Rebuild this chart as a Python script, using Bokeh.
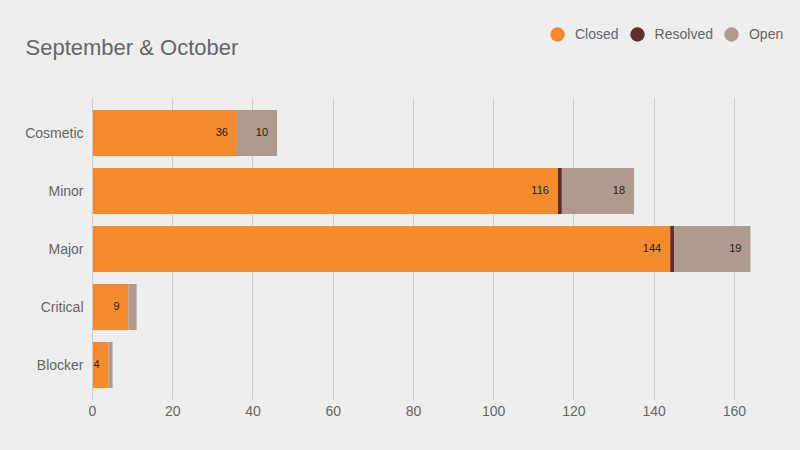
import numpy as np
import pandas as pd
from bokeh.plotting import figure
from bokeh.layouts import column
from bokeh.models import ColumnDataSource, FactorRange, Range1d, LabelSet, Label, Legend, LegendItem
from bokeh.core.properties import value
from bokeh.embed import file_html
from bokeh.resources import INLINE

# data
categories = ["Cosmetic", "Minor", "Major", "Critical", "Blocker"]
closed = [36, 116, 144, 9, 4]
resolved = [0, 1, 1, 0, 0]
opened = [10, 18, 19, 2, 1]
x_ticks = [0, 20, 40, 60, 80, 100, 120, 140, 160]

series = ["Closed", "Resolved", "Open"]
colors = ["#f48c2e", "#5e2e2f", "#b09a8e"]
text_grey = "#666666"
bg = "#eeeeee"
font = "Liberation Sans"

df = pd.DataFrame({"category": categories, "Closed": closed,
                   "Resolved": resolved, "Open": opened})
source = ColumnDataSource(df)

# header strip: title and legend
head_h = 98
head = figure(width=800, height=head_h, x_range=Range1d(0, 800), y_range=Range1d(head_h, 0),
              output_backend="svg", toolbar_location=None,
              x_axis_location=None, y_axis_location=None, min_border=0)
head.frame_align = False
head.background_fill_color = None
head.border_fill_color = bg
head.outline_line_color = None
head.grid.visible = False

head.add_layout(Label(x=25, y=47, text="September & October", text_baseline="alphabetic",
                      text_font=font, text_font_size="22px", text_color=text_grey))

proxies = []
for name, c in zip(series, colors):
    r = head.scatter(x=[np.nan], y=[np.nan], marker="circle", fill_color=c, line_color=None)
    proxies.append(LegendItem(label=name, renderers=[r]))
legend = Legend(items=proxies, orientation="horizontal", location=(539, head_h - 54),
                glyph_width=36, glyph_height=40, label_standoff=0, spacing=0,
                padding=0, margin=0, border_line_color=None, background_fill_alpha=0,
                label_text_font=font, label_text_font_size="14px", label_text_color=text_grey)
head.add_layout(legend)

# main chart
p = figure(width=800, height=450 - head_h,
           y_range=FactorRange(factors=categories[::-1], range_padding=0.095,
                               range_padding_units="absolute"),
           x_range=Range1d(0, 169),
           output_backend="svg", toolbar_location=None,
           min_border_left=92, min_border_right=30,
           min_border_top=0, min_border_bottom=51)
p.frame_align = False

p.background_fill_color = None
p.border_fill_color = bg
p.outline_line_color = None

p.hbar_stack(series, y="category", height=0.79, color=colors,
             line_color=None, source=source)

# value labels at the inside end of each segment
df["closed_end"] = df["Closed"]
df["open_end"] = df["Closed"] + df["Resolved"] + df["Open"]
lab_closed = df[df["Closed"] >= 3]
lab_open = df[df["Open"] >= 3]
for sub, col, end in [(lab_closed, "Closed", "closed_end"), (lab_open, "Open", "open_end")]:
    lsrc = ColumnDataSource(dict(x=sub[end].tolist(), y=sub["category"].tolist(),
                                 t=[str(v) for v in sub[col]]))
    p.add_layout(LabelSet(x="x", y="y", text="t", source=lsrc, x_offset=-9, y_offset=1,
                          text_align="right", text_baseline="middle",
                          text_font=value(font), text_font_size=value("11px"),
                          text_color="#222222"))

# axes and grid
p.xaxis.ticker = x_ticks
p.xaxis.axis_line_color = None
p.xaxis.major_tick_line_color = None
p.xaxis.major_tick_out = 0
p.xaxis.minor_tick_line_color = None
p.xaxis.major_label_text_font = font
p.xaxis.major_label_text_font_size = "14px"
p.xaxis.major_label_text_color = text_grey
p.xaxis.major_label_standoff = 6

p.yaxis.axis_line_color = "#cccccc"
p.yaxis.major_tick_line_color = None
p.yaxis.major_tick_out = 0
p.yaxis.minor_tick_line_color = None
p.yaxis.major_label_text_font = font
p.yaxis.major_label_text_font_size = "14px"
p.yaxis.major_label_text_color = text_grey
p.yaxis.major_label_standoff = 9

p.xgrid.grid_line_color = "#cccccc"
p.ygrid.grid_line_color = None

layout = column(head, p, spacing=0, styles={"background-color": bg})
open("out.html", "w").write(file_html(layout, INLINE))
